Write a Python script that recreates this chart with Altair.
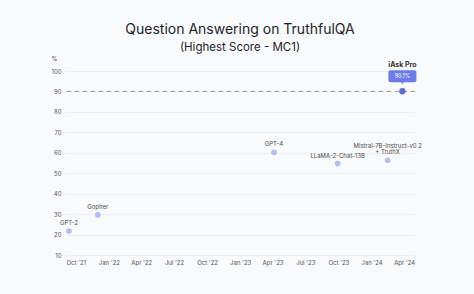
import altair as alt
import pandas as pd

models = ["GPT-2", "Gopher", "GPT-4", "LLaMA-2-Chat-13B", "Mistral-7B-Instruct-v0.2 + TruthX", "iAsk Pro"]
label_lines = [["GPT-2"], ["Gopher"], ["GPT-4"], ["LLaMA-2-Chat-13B"],
               ["Mistral-7B-Instruct-v0.2", "+ TruthX"], ["iAsk Pro"]]
dates = ["2021-09-12", "2021-12-01", "2023-04-05", "2023-09-29", "2024-02-15", "2024-03-27"]
scores = [21.7, 29.6, 60.2, 54.7, 56.3, 90.1]
highlight = [False, False, False, False, False, True]
y_ticks = [10, 20, 30, 40, 50, 60, 70, 80, 90, 100]
tick_months = [(2021, 10), (2022, 1), (2022, 4), (2022, 7), (2022, 10), (2023, 1),
               (2023, 4), (2023, 7), (2023, 10), (2024, 1), (2024, 4)]
ref_value = 90

df = pd.DataFrame({"model": models, "date": dates, "score": scores, "hl": highlight})
df["label"] = df["score"].map(lambda v: f"{v:.1f}%")
others = df[~df["hl"]]
top = df[df["hl"]]

rows = []
for lines, d, s, h in zip(label_lines, dates, scores, highlight):
    if h:
        continue
    n = len(lines)
    for i, t in enumerate(lines):
        rows.append({"date": d, "score": s, "text": t, "k": n - 1 - i})
lab = pd.DataFrame(rows)

FONT = "Inter"
x_scale = alt.Scale(type="utc",
                    domain=[alt.DateTime(year=2021, month=9, date=1, utc=True),
                            alt.DateTime(year=2024, month=5, date=1, utc=True)])
y_scale = alt.Scale(domain=[10, 100], nice=False, zero=False)

x_enc = alt.X("date:T", scale=x_scale, axis=alt.Axis(
    values=[alt.DateTime(year=y, month=m, date=1, utc=True) for y, m in tick_months],
    format="%b '%y", title=None, grid=False, domain=False, ticks=False, labelOverlap=False,
    labelFontSize=6, labelColor="#555", labelPadding=4, labelFont=FONT))
y_enc = alt.Y("score:Q", scale=y_scale, axis=alt.Axis(
    values=y_ticks, title="%", titleAngle=0, titleX=-8, titleY=-10, titleAlign="right",
    titleFontSize=6, titleFontWeight="normal", titleColor="#555", titleFont=FONT,
    grid=True, gridColor="#eceef2", gridWidth=1, domain=False, ticks=False, labelOverlap=False,
    labelFontSize=6, labelColor="#555", labelPadding=4, labelFont=FONT))

rule = alt.Chart(pd.DataFrame({"score": [ref_value]})).mark_rule(
    color="#8a8a8a", strokeDash=[4, 4], strokeWidth=0.9
).encode(y=y_enc)

pts = alt.Chart(others).mark_circle(size=32, color="#b6bcf2", opacity=1).encode(x=x_enc, y=y_enc)
lab0 = alt.Chart(lab[lab["k"] == 0]).mark_text(
    fontSize=6, color="#4a4a4a", baseline="bottom", dy=-5, font=FONT
).encode(x=x_enc, y=y_enc, text="text:N")
lab1 = alt.Chart(lab[lab["k"] == 1]).mark_text(
    fontSize=6, color="#4a4a4a", baseline="bottom", dy=-11.5, font=FONT
).encode(x=x_enc, y=y_enc, text="text:N")

top_pt = alt.Chart(top).mark_circle(size=40, color="#5b6be0", opacity=1).encode(x=x_enc, y=y_enc)
box = alt.Chart(top).mark_rect(width=28, height=12, cornerRadius=2, color="#6b7be8", yOffset=-15).encode(
    x=x_enc, y=y_enc)
pointer = alt.Chart(top).mark_point(shape="triangle-down", size=14, filled=True, color="#6b7be8",
                                    opacity=1, yOffset=-8.5).encode(x=x_enc, y=y_enc)
box_text = alt.Chart(top).mark_text(fontSize=5.5, color="white", baseline="middle", yOffset=-15, font=FONT).encode(
    x=x_enc, y=y_enc, text="label:N")
top_label = alt.Chart(top).mark_text(fontSize=7, fontWeight="bold", color="#333", baseline="middle",
                                     yOffset=-26, font=FONT).encode(x=x_enc, y=y_enc, text="model:N")

chart = alt.layer(pts, rule, lab0, lab1, top_pt, box, pointer, box_text, top_label).properties(
    width=350, height=184,
    title=alt.TitleParams(text="Question Answering on TruthfulQA", subtitle="(Highest Score - MC1)",
                          fontSize=14, subtitleFontSize=11.5, font=FONT, subtitleFont=FONT,
                          fontWeight="normal", color="#1e1e2a", subtitleColor="#1e1e2a",
                          anchor="middle", offset=2, subtitlePadding=5, frame="group"),
    autosize=alt.AutoSizeParams(type="none"),
    padding={"left": 65, "top": 71, "right": 59, "bottom": 39},
    background="#f9fafc",
).configure_view(stroke=None).configure_axis(labelOverlap=False)

chart.save("out.html", embed_options={"renderer": "svg", "actions": False})
